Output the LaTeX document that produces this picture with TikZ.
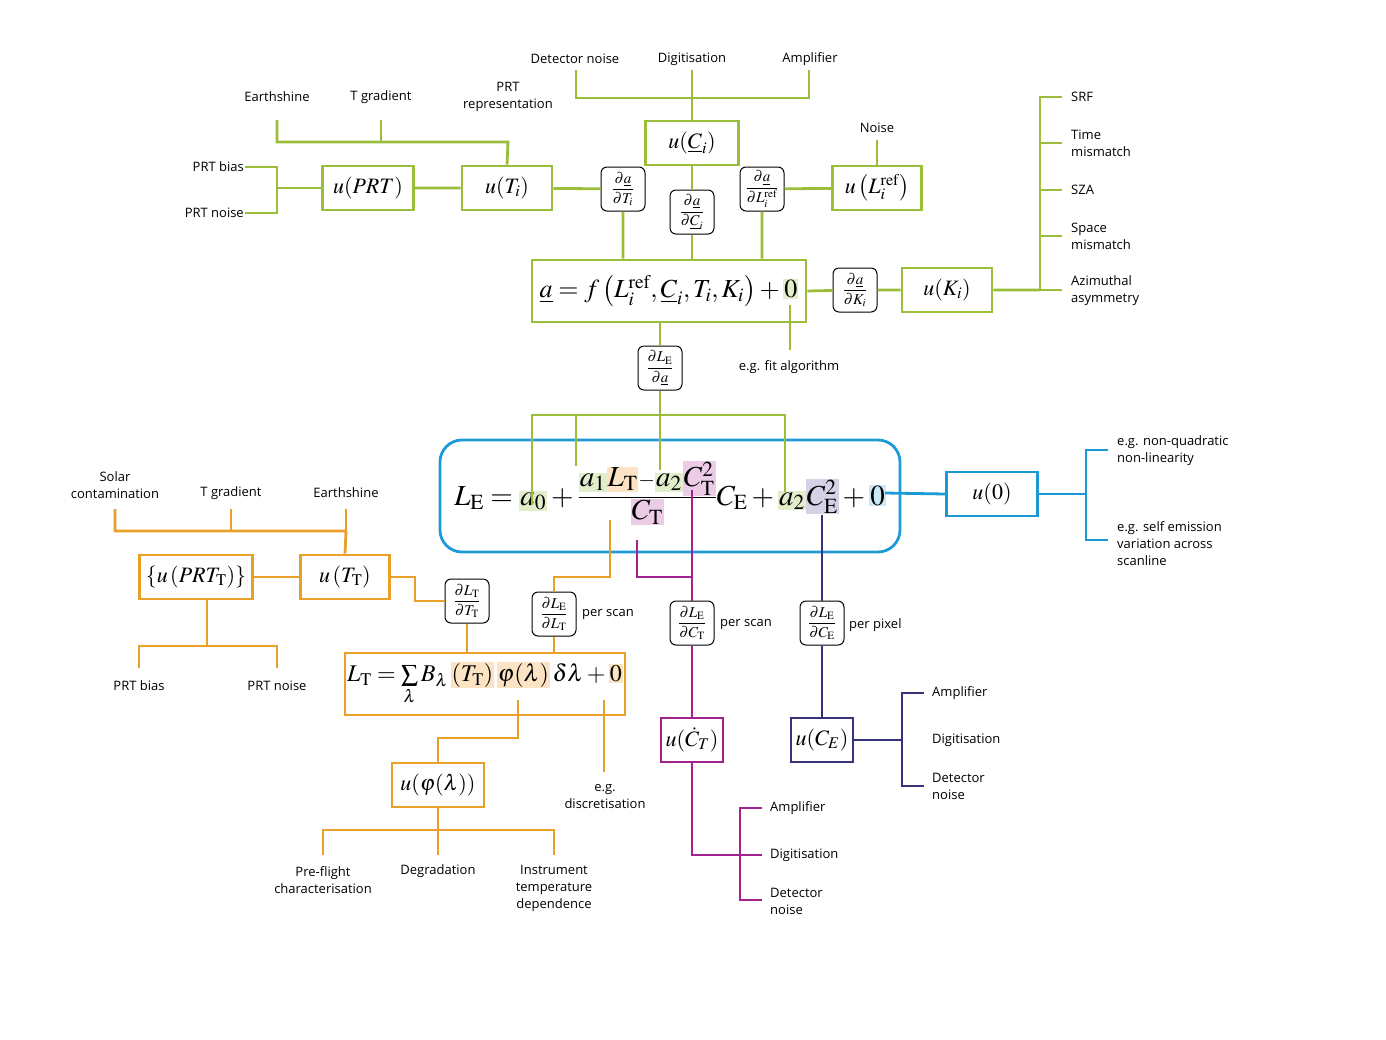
\documentclass[tikz,border=0pt]{standalone}
\usepackage{mathptmx}
\usepackage{fontspec}
\setmainfont{Open Sans}
\definecolor{grn}{RGB}{154,190,58}
\definecolor{org}{RGB}{232,160,40}
\definecolor{blu}{RGB}{27,154,214}
\definecolor{mag}{RGB}{163,34,142}
\definecolor{nav}{RGB}{55,50,125}
\definecolor{hg}{RGB}{226,237,203}
\definecolor{ho}{RGB}{251,227,195}
\definecolor{hp}{RGB}{235,203,230}
\definecolor{hv}{RGB}{213,210,230}
\definecolor{hb}{RGB}{205,232,245}
\newcommand\hlt[2]{{\fboxsep=1pt\colorbox{#1}{$#2$}}}
\newcommand\rmsub[1]{_{\mathrm{#1}}}
\newcommand\pd[2]{\displaystyle\frac{\partial #1}{\partial #2}}
\tikzset{
  lbl/.style={font=\fontsize{13}{17}\selectfont, align=center, inner sep=1pt},
  lbll/.style={lbl, align=left, anchor=west},
  ubox/.style={draw=#1, line width=2.8pt, minimum height=44pt, font=\fontsize{22}{26}\selectfont, inner sep=2pt},
  dbox/.style={draw=black, line width=1pt, rounded corners=6pt, fill=white, minimum width=44pt, minimum height=44pt, inner sep=1pt, font=\fontsize{15}{17}\selectfont},
  cl/.style={draw=#1, line width=2.8pt},
}
\begin{document}
\begin{tikzpicture}[x=1pt,y=-1pt]
\useasboundingbox (0,0) rectangle (1386,1039);
% ---- green: calibration coefficients
\node[lbl] (dn) at (575,59) {Detector noise};
\node[lbl] (dg) at (692,59) {Digitisation};
\node[lbl] (am) at (810,59) {Amplifier};
\node[lbl] (es) at (277,97) {Earthshine};
\node[lbl] (tg) at (381,97) {T gradient};
\node[lbl] (pr) at (508,97) {PRT\\representation};
\node[lbl, anchor=east] (pb) at (245,167) {PRT bias};
\node[lbl, anchor=east] (pn) at (245,213) {PRT noise};
\node[lbl] (no) at (877,128) {Noise};
\node[ubox=grn, minimum width=93pt] (uC) at (692,143) {$u(\underline{C}_i)$};
\node[ubox=grn, minimum width=91pt] (uP) at (368,188) {$u(PRT)$};
\node[ubox=grn, minimum width=90pt] (uT) at (507,188) {$u(T_i)$};
\node[ubox=grn, minimum width=89pt] (uL) at (877,188) {$u\left(L_i^{\mathrm{ref}}\right)$};
\node[dbox] (dT) at (623,189) {$\pd{\underline{a}}{T_i}$};
\node[dbox] (dC) at (692,212) {$\pd{\underline{a}}{\underline{C}_i}$};
\node[dbox] (dL) at (762,189) {$\pd{\underline{a}}{L_i^{\mathrm{ref}}}$};
\node[ubox=grn, minimum width=274pt, minimum height=62pt, font=\fontsize{26}{30}\selectfont] (fa) at (669,291)
  {$\underline{a}=f\left(L_i^{\mathrm{ref}},\underline{C}_i,T_i,K_i\right)+\hlt{hg}{0}$};
\node[dbox] (dK) at (855,290) {$\pd{\underline{a}}{K_i}$};
\node[ubox=grn, minimum width=90pt] (uK) at (947,290) {$u(K_i)$};
\node[dbox] (dE) at (660,368) {$\pd{L\rmsub{E}}{\underline{a}}$};
\node[lbl] (fit) at (789,367) {e.g. fit algorithm};
\node[lbll] (srf) at (1070,97) {SRF};
\node[lbll] (tm) at (1070,143) {Time\\mismatch};
\node[lbll] (sza) at (1070,190) {SZA};
\node[lbll] (sm) at (1070,236) {Space\\mismatch};
\node[lbll] (az) at (1070,291) {Azimuthal\\asymmetry};
\coordinate (f0) at (790,350);
\coordinate (kb) at (1040,290);
\draw[cl=grn] (576,70) -- (576,98) -- (809,98) -- (809,70);
\draw[cl=grn] (692,70) -- (692,98) -- (uC.north);
\draw[cl=grn] (277,120) -- (277,142) -- (508,142) -- (uT.north);
\draw[cl=grn] (381,120) -- (381,142);
\draw[cl=grn] (pb.east) -- (277,167) -- (277,213) -- (pn.east);
\draw[cl=grn] (277,188) -- (uP.west);
\draw[cl=grn] (uP) -- (uT) -- (dT) -- (dT |- fa.north);
\draw[cl=grn] (uC) -- (dC) -- (dC |- fa.north);
\draw[cl=grn] (uL) -- (dL) -- (dL |- fa.north);
\draw[cl=grn] (877,140) -- (uL.north);
\draw[cl=grn] (fa.east) -- (dK) -- (uK) -- (kb);
\draw[cl=grn] (790,305) -- (f0);
\draw[cl=grn] (fa.south -| dE) -- (dE);
\draw[cl=grn] (1062,97) -- (1040,97) -- (kb) -- (1062,290);
\foreach \yy in {143,190,236} \draw[cl=grn] (1040,\yy) -- (1062,\yy);
% ---- blue: measurement equation
\node[draw=blu, line width=2.8pt, rounded corners=22pt, minimum width=460pt, minimum height=112pt] (eqb) at (670,496) {};
\node[font=\fontsize{29}{33}\selectfont, inner sep=0pt] (eq) at (670,493)
  {$L\rmsub{E}=\hlt{hg}{a_0}+\frac{\hlt{hg}{a_1}\hlt{ho}{L\rmsub{T}}-\hlt{hg}{a_2}\hlt{hp}{C\rmsub{T}^2}}{\hlt{hp}{C\rmsub{T}}}C\rmsub{E}+\hlt{hg}{a_2}\hlt{hv}{C\rmsub{E}^2}+\hlt{hb}{0}$};
\node[ubox=blu, minimum width=91pt] (u0) at (992,494) {$u(0)$};
\node[lbll] (nq) at (1116,451) {e.g. non-quadratic\\non-linearity};
\node[lbll] (se) at (1116,544) {e.g. self emission\\variation across\\scanline};
\draw[cl=blu] (885,493) -- (u0.west);
\draw[cl=blu] (u0.east) -- (1086,494);
\draw[cl=blu] (1108,450) -- (1086,450) -- (1086,540) -- (1108,540);
\draw[cl=grn] (dE) -- (660,415);
\draw[cl=grn] (532,505) -- (532,415) -- (785,415) -- (785,492);
\draw[cl=grn] (576,415) -- (576,466);
\draw[cl=grn] (660,415) -- (660,470);
% ---- orange: target temperature
\node[lbl] (sc) at (115,485) {Solar\\contamination};
\node[lbl] (tg2) at (231,493) {T gradient};
\node[lbl] (es2) at (346,493) {Earthshine};
\node[ubox=org, minimum width=113pt] (uPT) at (196,577) {$\left\{u\left(PRT\rmsub{T}\right)\right\}$};
\node[ubox=org, minimum width=89pt] (uTT) at (345,577) {$u\left(T\rmsub{T}\right)$};
\node[lbl] (pb2) at (139,686) {PRT bias};
\node[lbl] (pn2) at (277,686) {PRT noise};
\node[dbox] (dTT) at (467,601) {$\pd{L\rmsub{T}}{T\rmsub{T}}$};
\node[dbox] (dLT) at (554,614) {$\pd{L\rmsub{E}}{L\rmsub{T}}$};
\node[lbl, anchor=west] (ps1) at (581,615) {per scan};
\node[ubox=org, minimum width=276pt, minimum height=62pt, font=\fontsize{24}{28}\selectfont] (LT) at (485,684)
  {$L\rmsub{T}=\sum\limits_{\lambda}B_{\lambda}\,\hlt{ho}{\left(T\rmsub{T}\right)}\,\hlt{ho}{\varphi(\lambda)}\,\delta\lambda+\hlt{ho}{0}$};
\node[ubox=org, minimum width=92pt] (uph) at (438,785) {$u(\varphi(\lambda))$};
\node[lbl] (dis) at (605,797) {e.g.\\discretisation};
\node[lbl] (pf) at (323,880) {Pre-flight\\characterisation};
\node[lbl] (dgr) at (438,871) {Degradation};
\node[lbl] (itd) at (554,888) {Instrument\\temperature\\dependence};
\draw[cl=org] (115,509) -- (115,531) -- (346,531) -- (uTT.north);
\draw[cl=org] (231,509) -- (231,531);
\draw[cl=org] (346,509) -- (346,531);
\draw[cl=org] (uPT) -- (uTT);
\draw[cl=org] (207,599) -- (207,646);
\draw[cl=org] (139,668) -- (139,646) -- (277,646) -- (277,668);
\draw[cl=org] (uTT.east) -- (415,577) |- (dTT.west);
\draw[cl=org] (dTT) -- (dTT |- LT.north);
\draw[cl=org] (610,520) -- (610,577) -| (dLT.north);
\draw[cl=org] (dLT) -- (dLT |- LT.north);
\draw[cl=org] (518,700) -- (518,738) -| (uph.north);
\draw[cl=org] (604,700) -- (604,772);
\draw[cl=org] (uph.south) -- (438,830);
\draw[cl=org] (323,855) -- (323,830) -- (554,830) -- (554,855);
\draw[cl=org] (438,830) -- (438,855);
% ---- magenta: space view counts
\node[dbox] (dCT) at (692,623) {$\pd{L\rmsub{E}}{C\rmsub{T}}$};
\node[lbl, anchor=west] (ps2) at (719,625) {per scan};
\node[ubox=mag, minimum width=62pt, inner sep=1pt] (uCT) at (692,740) {$u(\dot{C}_T)$};
\node[lbll] (am2) at (769,808) {Amplifier};
\node[lbll] (dg2) at (769,855) {Digitisation};
\node[lbll] (dn2) at (769,901) {Detector\\noise};
\draw[cl=mag] (637,540) -- (637,577) -- (692,577);
\draw[cl=mag] (692,490) -- (dCT.north);
\draw[cl=mag] (dCT) -- (uCT) -- (692,855) -- (762,855);
\draw[cl=mag] (762,808) -- (740,808) -- (740,900) -- (762,900);
% ---- navy: Earth view counts
\node[dbox] (dCE) at (822,623) {$\pd{L\rmsub{E}}{C\rmsub{E}}$};
\node[lbl, anchor=west] (pp) at (848,625) {per pixel};
\node[ubox=nav, minimum width=62pt, inner sep=1pt] (uCE) at (822,740) {$u(C_E)$};
\node[lbll] (am3) at (931,693) {Amplifier};
\node[lbll] (dg3) at (931,740) {Digitisation};
\node[lbll] (dn3) at (931,786) {Detector\\noise};
\draw[cl=nav] (822,515) -- (dCE.north);
\draw[cl=nav] (dCE) -- (uCE) -- (902,740);
\draw[cl=nav] (924,693) -- (902,693) -- (902,786) -- (924,786);
\end{tikzpicture}
\end{document}
